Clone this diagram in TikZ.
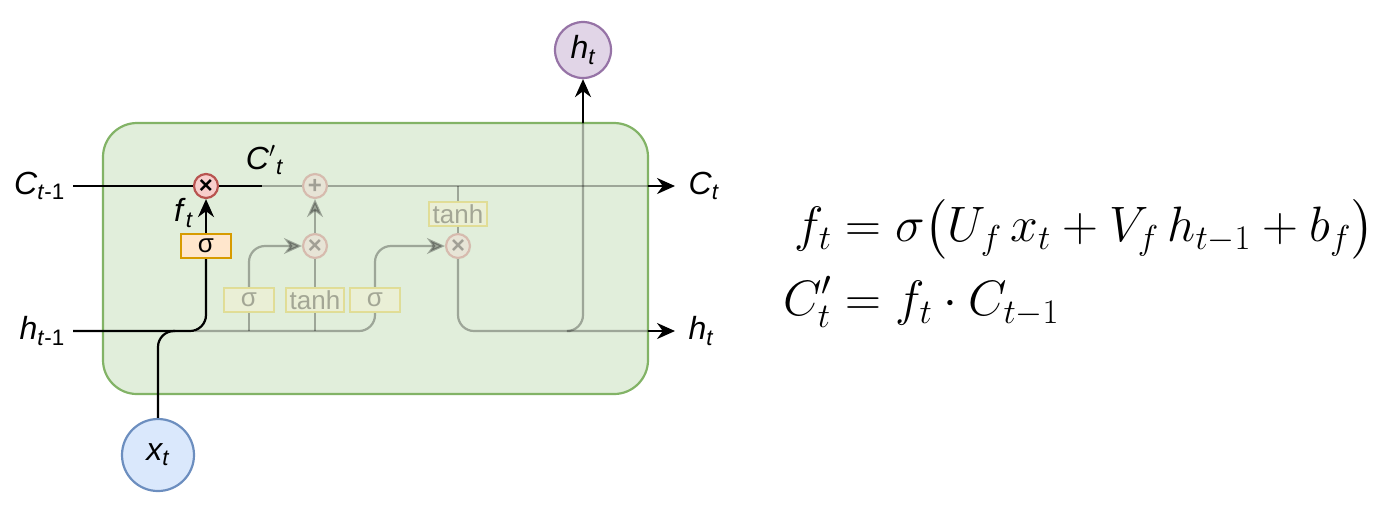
\documentclass[tikz,border=0pt]{standalone}
\usepackage{amsmath}
\usepackage{fontspec}
\setmainfont{Liberation Sans}
\usetikzlibrary{arrows.meta}
\tikzset{every picture/.style={line width=1.1pt}}
\tikzset{
  lbl/.style={inner sep=0.75pt,font=\fontsize{16}{18}\selectfont},
  op/.style={circle,draw,minimum size=12pt,inner sep=0pt,font=\fontsize{12}{12}\selectfont\bfseries},
  gate/.style={draw,minimum height=12pt,inner sep=1pt,font=\fontsize{13}{13}\selectfont},
  faded/.style={opacity=0.3},
  arr/.style={-{Stealth[length=9pt,width=8pt]}},
}
\begin{document}
\begin{tikzpicture}[x=0.5pt,y=0.5pt,yscale=-1,xscale=1]
\useasboundingbox (0,0) rectangle (1400,511);

%Cell
\draw [draw={rgb,255:red,130;green,179;blue,102},fill={rgb,255:red,225;green,238;blue,219},rounded corners=17pt] (103,123) rectangle (648,394);

% Nodes
\node [op,draw={rgb,255:red,184;green,84;blue,80},fill={rgb,255:red,248;green,206;blue,204}] (mf) at (206,186) {×};
\node [gate,minimum width=25pt,draw={rgb,255:red,215;green,155;blue,0},fill={rgb,255:red,255;green,230;blue,204}] (sf) at (206,246) {σ};
\node [circle,draw={rgb,255:red,108;green,142;blue,191},fill={rgb,255:red,218;green,232;blue,252},minimum size=36pt,lbl] (xt) at (158,455) {\textit{x\textsubscript{t}}};
\node [circle,draw={rgb,255:red,150;green,115;blue,166},fill={rgb,255:red,225;green,213;blue,231},minimum size=28pt,lbl] (ht) at (583,50) {\textit{h\textsubscript{t}}};
\coordinate (cin) at (73,186);
\coordinate (cout) at (675,186);
\coordinate (hin) at (73,331);
\coordinate (hout) at (675,331);
\coordinate (cp) at (262,186);
\coordinate (ce) at (648,186);
\coordinate (he) at (648,331);
\coordinate (hu) at (583,123);

% Faded part
\begin{scope}[faded]
\node [op,draw={rgb,255:red,184;green,84;blue,80},fill={rgb,255:red,248;green,206;blue,204}] (pl) at (315,186) {+};
\node [op,draw={rgb,255:red,184;green,84;blue,80},fill={rgb,255:red,248;green,206;blue,204}] (mi) at (315,246) {×};
\node [op,draw={rgb,255:red,184;green,84;blue,80},fill={rgb,255:red,248;green,206;blue,204}] (mo) at (458,246) {×};
\node [gate,minimum width=25pt,draw={rgb,255:red,215;green,182;blue,0},fill={rgb,255:red,255;green,242;blue,204}] (si) at (249,300) {σ};
\node [gate,minimum width=29pt,draw={rgb,255:red,215;green,182;blue,0},fill={rgb,255:red,255;green,242;blue,204}] (tc) at (315,300) {tanh};
\node [gate,minimum width=25pt,draw={rgb,255:red,215;green,182;blue,0},fill={rgb,255:red,255;green,242;blue,204}] (so) at (375,300) {σ};
\node [gate,minimum width=29pt,draw={rgb,255:red,215;green,182;blue,0},fill={rgb,255:red,255;green,242;blue,204}] (th) at (458,214) {tanh};
\draw (cp) -- (pl) -- (ce);
\draw [arr] (mi) -- (pl);
\draw (tc) -- (mi);
\draw [arr,rounded corners=8pt] (si.north) |- (mi);
\draw [arr,rounded corners=8pt] (so.north) |- (mo);
\draw (458,186) -- (th) -- (mo);
\draw [rounded corners=8pt] (195,331) -- (375,331) -- (so.south);
\draw (249,331) -- (si.south);
\draw (315,331) -- (tc.south);
\draw [rounded corners=8pt] (mo) |- (he);
\draw [rounded corners=8pt] (570,331) -| (hu);
\end{scope}

% Connectors
\draw (cin) -- (mf) -- (cp);
\draw [arr] (ce) -- (cout);
\draw [arr] (he) -- (hout);
\draw [arr] (sf) -- (mf);
\draw [rounded corners=8pt] (hin) -- (206,331) -- (sf);
\draw [rounded corners=8pt] (xt) -- (158,331) -- (175,331);
\draw [arr] (hu) -- (ht);

% Labels
\node [lbl,anchor=east] at (68,186) {\textit{C}\textsubscript{\textit{t}-1}};
\node [lbl,anchor=east] at (68,331) {\textit{h}\textsubscript{\textit{t}-1}};
\node [lbl,anchor=west] at (686,186) {\textit{C}\textsubscript{\textit{t}}};
\node [lbl,anchor=west] at (686,331) {\textit{h}\textsubscript{\textit{t}}};
\node [lbl] at (265,160) {\textit{C}$'$\textsubscript{\textit{t}}};
\node [lbl] at (184,213) {\textit{f}\textsubscript{\textit{t}}};

% Equations
\node [anchor=west,inner sep=0pt,font=\fontsize{26}{34}\selectfont] (eq) at (782,265) {$\begin{aligned} f_t &= \sigma\big(U_f\, x_t + V_f\, h_{t-1} + b_f\big)\\ C'_t &= f_t \cdot C_{t-1}\end{aligned}$};
\end{tikzpicture}
\end{document}
